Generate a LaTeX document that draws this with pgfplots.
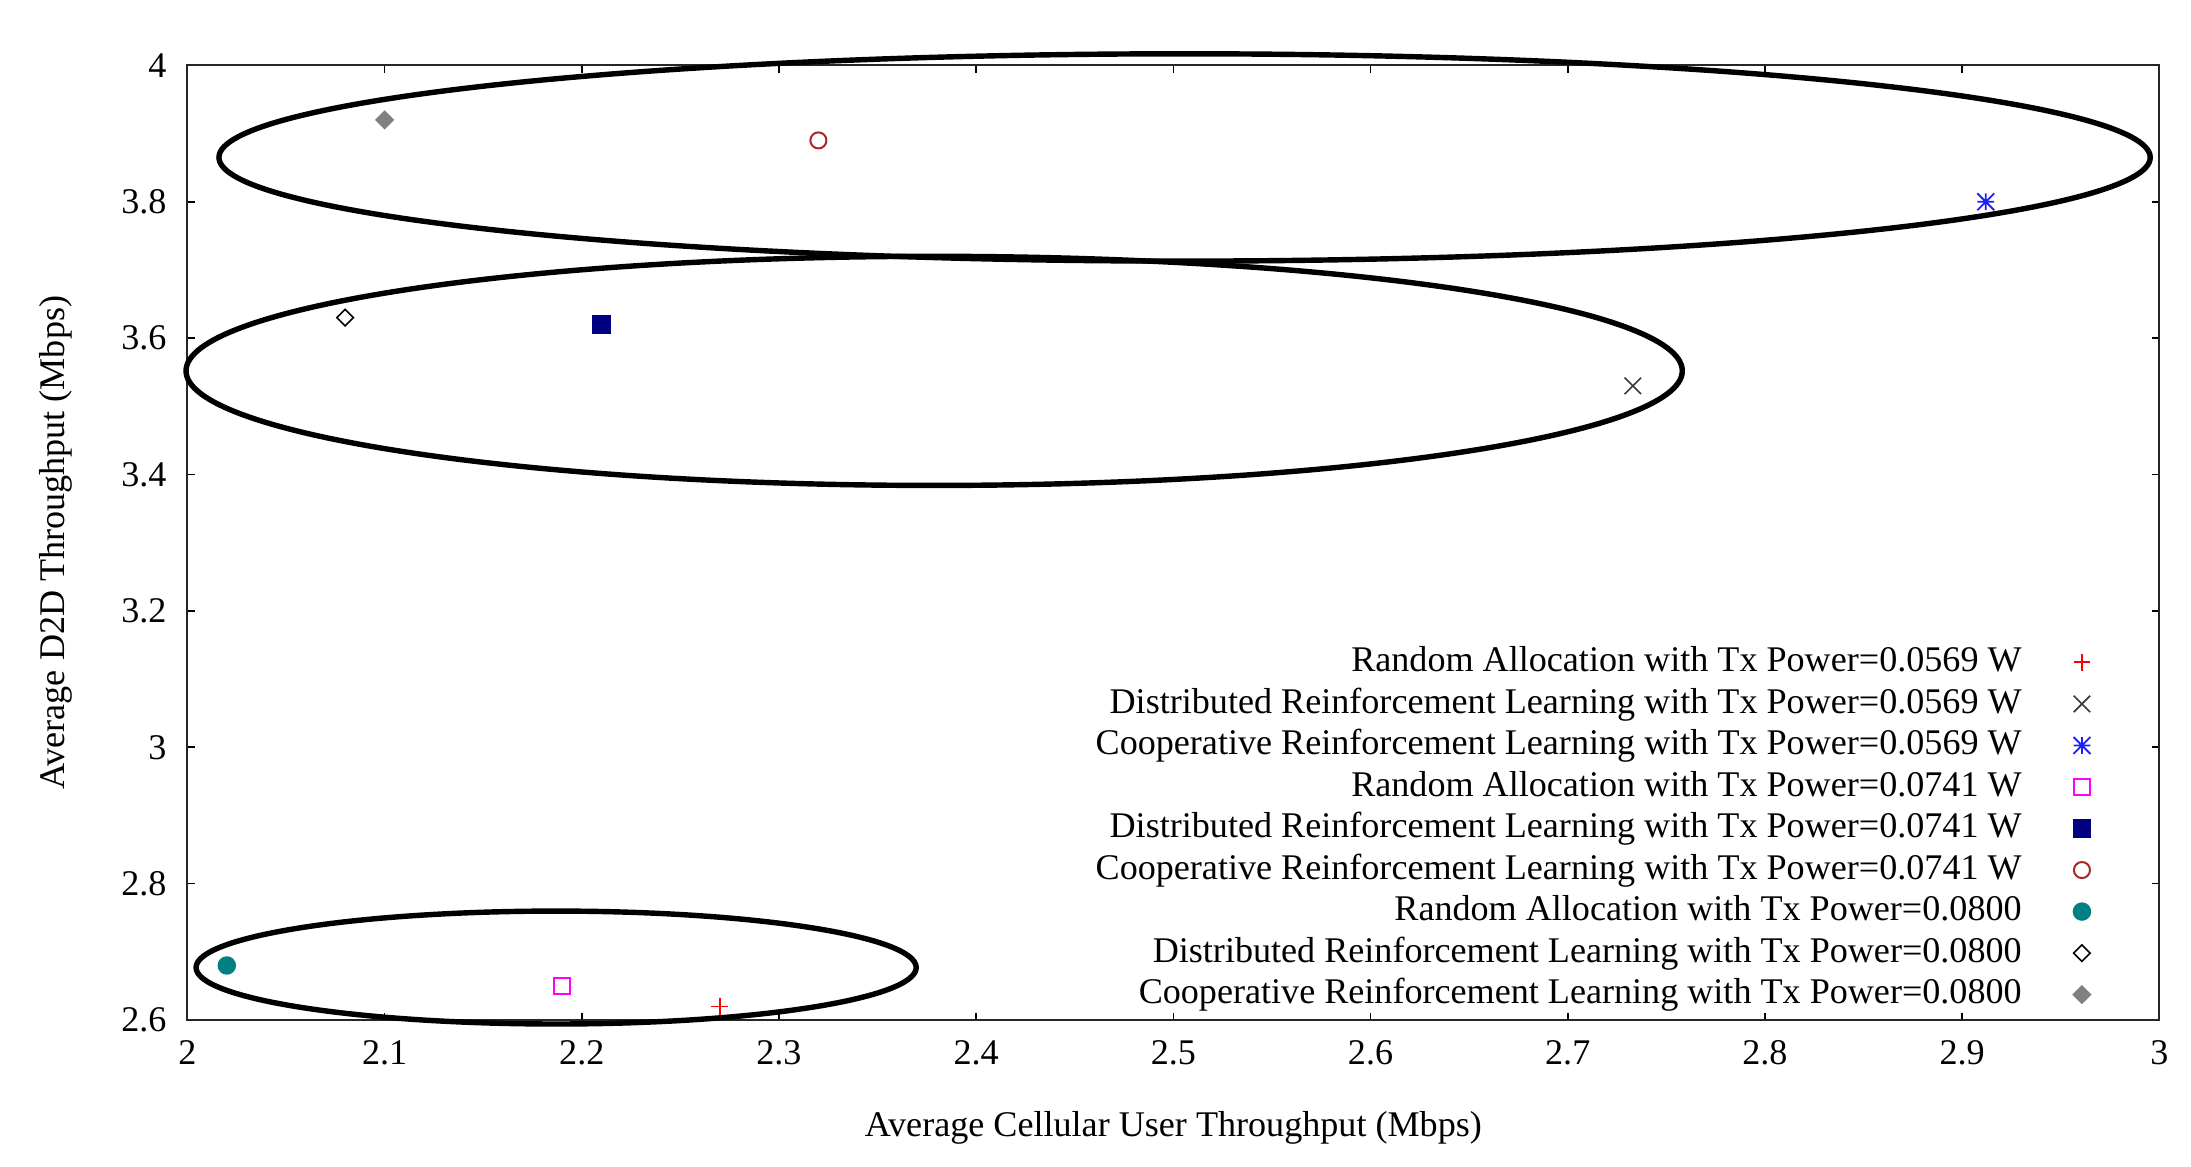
\documentclass[border=0pt]{standalone}
\usepackage{pgfplots}
\pgfplotsset{compat=1.18}
\usepackage{fontspec}
\setmainfont{Liberation Serif}
\definecolor{cx}{RGB}{60,60,60}
\definecolor{cblue}{RGB}{30,30,255}
\definecolor{cmag}{RGB}{255,0,255}
\definecolor{cnavy}{RGB}{0,0,128}
\definecolor{cbrown}{RGB}{165,42,42}
\definecolor{cteal}{RGB}{0,128,128}
\definecolor{cgray}{RGB}{128,128,128}
\pgfdeclareplotmark{gpstar}{%
  \pgfpathmoveto{\pgfqpoint{-\pgfplotmarksize}{0pt}}%
  \pgfpathlineto{\pgfqpoint{\pgfplotmarksize}{0pt}}%
  \pgfpathmoveto{\pgfqpoint{0pt}{-\pgfplotmarksize}}%
  \pgfpathlineto{\pgfqpoint{0pt}{\pgfplotmarksize}}%
  \pgfpathmoveto{\pgfqpoint{-\pgfplotmarksize}{-\pgfplotmarksize}}%
  \pgfpathlineto{\pgfqpoint{\pgfplotmarksize}{\pgfplotmarksize}}%
  \pgfpathmoveto{\pgfqpoint{-\pgfplotmarksize}{\pgfplotmarksize}}%
  \pgfpathlineto{\pgfqpoint{\pgfplotmarksize}{-\pgfplotmarksize}}%
  \pgfusepathqstroke}
\begin{document}
\fontsize{9}{11}\selectfont
\begin{tikzpicture}
\begin{axis}[
  name=ax, at={(0,0)}, anchor=south west,
  scale only axis, width=491.4pt, height=237.9pt,
  xmin=2, xmax=3, ymin=2.6, ymax=4,
  xtick={2,2.1,...,3.01}, ytick={2.6,2.8,...,4.01},
  /pgf/number format/assume math mode=true,
  /pgf/number format/fixed,
  tick align=inside, major tick length=1.8pt,
  tick style={black, line width=0.4pt},
  axis line style={line width=0.5pt, black!85},
  xticklabel style={yshift=-2pt},
  yticklabel style={xshift=-2pt},
  xlabel={Average Cellular User Throughput (Mbps)},
  ylabel={Average D2D Throughput (Mbps)},
  x label style={at={(axis description cs:0.5,-0.1127)}, anchor=center},
  y label style={at={(axis description cs:-0.0665,0.5)}, anchor=center, rotate=0},
  clip=false,
  legend cell align=right,
  legend plot pos=right,
  legend style={draw=none, fill=none, at={(0.9716,-0.0044)}, anchor=south east,
    column sep=12.4pt,
    nodes={inner sep=0.5pt, text height=7pt, text depth=2.35pt}},
  every axis plot/.append style={only marks, mark size=2.1pt},
]
\addplot[red, mark=+, mark options={line width=0.45pt}] coordinates {(2.27,2.62)};
\addlegendentry{Random Allocation with Tx Power=0.0569 W}
\addplot[cx, mark=x, mark size=2.9pt, mark options={line width=0.4pt}] coordinates {(2.733,3.53)};
\addlegendentry{Distributed Reinforcement Learning with Tx Power=0.0569 W}
\addplot[cblue, mark=gpstar, mark options={line width=0.45pt}] coordinates {(2.912,3.80)};
\addlegendentry{Cooperative Reinforcement Learning with Tx Power=0.0569 W}
\addplot[cmag, mark=square, mark size=2.0pt, mark options={line width=0.5pt}] coordinates {(2.19,2.65)};
\addlegendentry{Random Allocation with Tx Power=0.0741 W}
\addplot[cnavy, mark=square*, mark size=2.1pt] coordinates {(2.21,3.62)};
\addlegendentry{Distributed Reinforcement Learning with Tx Power=0.0741 W}
\addplot[cbrown, mark=o, mark size=2.0pt, mark options={line width=0.5pt}] coordinates {(2.32,3.89)};
\addlegendentry{Cooperative Reinforcement Learning with Tx Power=0.0741 W}
\addplot[cteal, mark=*, mark size=2.1pt] coordinates {(2.02,2.68)};
\addlegendentry{Random Allocation with Tx Power=0.0800}
\addplot[black, mark=square, mark size=1.45pt, mark options={rotate=45, line width=0.4pt}] coordinates {(2.08,3.63)};
\addlegendentry{Distributed Reinforcement Learning with Tx Power=0.0800}
\addplot[cgray, mark=square*, mark size=1.5pt, mark options={rotate=45}] coordinates {(2.10,3.92)};
\addlegendentry{Cooperative Reinforcement Learning with Tx Power=0.0800}
\draw[line width=1.35pt] (axis cs:2.5057,3.865) ellipse [x radius=0.4897, y radius=0.152];
\draw[line width=1.35pt] (axis cs:2.3787,3.552) ellipse [x radius=0.3794, y radius=0.168];
\draw[line width=1.35pt] (axis cs:2.187,2.677) ellipse [x radius=0.1826, y radius=0.0828];
\end{axis}
\pgfresetboundingbox
\path (-46.7pt,-36.4pt) rectangle (499.3pt,254.2pt);
\end{tikzpicture}
\end{document}
